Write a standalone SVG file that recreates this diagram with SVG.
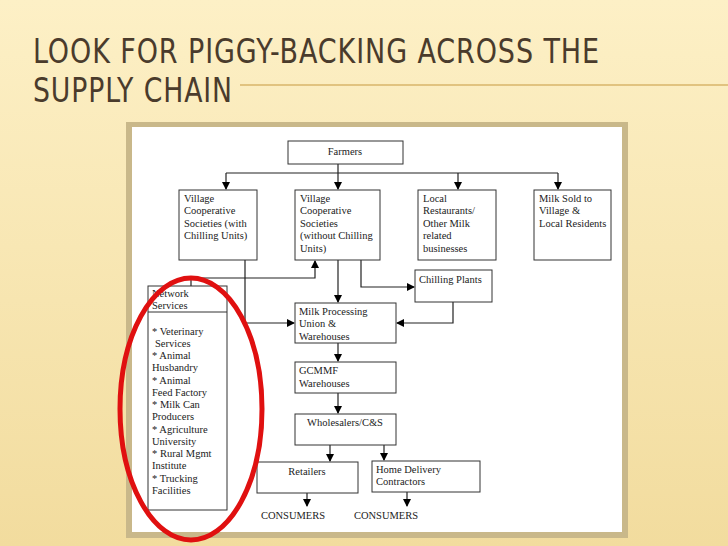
<svg xmlns="http://www.w3.org/2000/svg" width="728" height="546" viewBox="0 0 728 546">
<defs>
<linearGradient id="bg" x1="0" y1="0" x2="0" y2="1"><stop offset="0" stop-color="#fdf0c6"/><stop offset="1" stop-color="#f2dc9e"/></linearGradient>
<marker id="a" markerWidth="8" markerHeight="8" refX="7" refY="4" orient="auto" markerUnits="userSpaceOnUse"><path d="M0,0 L8,4 L0,8 Z" fill="#000"/></marker>
<style>
.b{fill:#fff;stroke:#333;stroke-width:1}
.t{font-family:"Liberation Serif",serif;font-size:10.5px;fill:#222}
.c{fill:none;stroke:#222;stroke-width:1.2;marker-end:url(#a)}
.l{fill:none;stroke:#222;stroke-width:1.2}
.ti{font-family:"DejaVu Sans Condensed","Open Sans",sans-serif;font-size:33px;fill:#4a3b2c;letter-spacing:1px}
</style>
</defs>
<rect width="728" height="546" fill="url(#bg)"/>
<text class="ti" x="33" y="63" textLength="567" lengthAdjust="spacingAndGlyphs">LOOK FOR PIGGY-BACKING ACROSS THE</text>
<text class="ti" x="33" y="102" textLength="200" lengthAdjust="spacingAndGlyphs">SUPPLY CHAIN</text>
<line x1="240" y1="85" x2="728" y2="85" stroke="#d9b56a" stroke-width="1.5"/>
<rect x="126" y="122" width="502" height="416" fill="#c9b88a"/>
<rect x="132" y="127" width="490" height="405" fill="#fff"/>
<g id="connectors">
<line class="l" x1="338" y1="164" x2="338" y2="173"/>
<line class="l" x1="226" y1="173" x2="558" y2="173"/>
<line class="c" x1="226" y1="173" x2="226" y2="189"/>
<line class="c" x1="338" y1="173" x2="338" y2="189"/>
<line class="c" x1="458" y1="173" x2="458" y2="189"/>
<line class="c" x1="558" y1="173" x2="558" y2="189"/>
<polyline class="c" points="191,286 191,278 315,278 315,261"/>
<polyline class="c" points="245,260 245,323 294,323"/>
<line class="c" x1="338" y1="260" x2="338" y2="302"/>
<polyline class="c" points="361,260 361,287 414,287"/>
<polyline class="c" points="453,302 453,323 397,323"/>
<line class="c" x1="338" y1="343" x2="338" y2="361"/>
<line class="c" x1="338" y1="393" x2="338" y2="413"/>
<line class="c" x1="330" y1="445" x2="330" y2="461"/>
<line class="c" x1="384" y1="445" x2="384" y2="460"/>
<line class="c" x1="307" y1="493" x2="307" y2="506"/>
<line class="c" x1="407" y1="492" x2="407" y2="506"/>
</g>
<g id="farmers"><rect class="b" x="288" y="141" width="115" height="23"/><text class="t" x="345" y="155" text-anchor="middle">Farmers</text></g>
<g id="vc1"><rect class="b" x="179" y="190" width="78" height="70"/><text class="t"><tspan x="184" y="202">Village</tspan><tspan x="184" y="214">Cooperative</tspan><tspan x="184" y="227">Societies (with</tspan><tspan x="184" y="239">Chilling Units)</tspan></text></g>
<g id="vc2"><rect class="b" x="295" y="190" width="85" height="70"/><text class="t"><tspan x="300" y="202">Village</tspan><tspan x="300" y="214">Cooperative</tspan><tspan x="300" y="227">Societies</tspan><tspan x="300" y="239">(without Chilling</tspan><tspan x="300" y="252">Units)</tspan></text></g>
<g id="local"><rect class="b" x="418" y="190" width="78" height="70"/><text class="t"><tspan x="423" y="202">Local</tspan><tspan x="423" y="214">Restaurants/</tspan><tspan x="423" y="227">Other Milk</tspan><tspan x="423" y="239">related</tspan><tspan x="423" y="252">businesses</tspan></text></g>
<g id="milksold"><rect class="b" x="534" y="190" width="77" height="70"/><text class="t"><tspan x="539" y="202">Milk Sold to</tspan><tspan x="539" y="214">Village &amp;</tspan><tspan x="539" y="227">Local Residents</tspan></text></g>
<g id="chilling"><rect class="b" x="415" y="270" width="77" height="32"/><text class="t" x="419" y="283">Chilling Plants</text></g>
<g id="network"><rect class="b" x="148" y="286" width="79" height="224"/><line x1="148" y1="312" x2="227" y2="312" stroke="#333"/><text class="t"><tspan x="152" y="297">Network</tspan><tspan x="152" y="309">Services</tspan><tspan x="152" y="335">* Veterinary</tspan><tspan x="155" y="347">Services</tspan><tspan x="152" y="359">* Animal</tspan><tspan x="152" y="371">Husbandry</tspan><tspan x="152" y="384">* Animal</tspan><tspan x="152" y="396">Feed Factory</tspan><tspan x="152" y="408">* Milk Can</tspan><tspan x="152" y="420">Producers</tspan><tspan x="152" y="433">* Agriculture</tspan><tspan x="152" y="445">University</tspan><tspan x="152" y="457">* Rural Mgmt</tspan><tspan x="152" y="469">Institute</tspan><tspan x="152" y="482">* Trucking</tspan><tspan x="152" y="494">Facilities</tspan></text></g>
<g id="mpu"><rect class="b" x="295" y="303" width="101" height="40"/><text class="t"><tspan x="299" y="315">Milk  Processing</tspan><tspan x="299" y="327">Union &amp;</tspan><tspan x="299" y="340">Warehouses</tspan></text></g>
<g id="gcmmf"><rect class="b" x="295" y="362" width="101" height="31"/><text class="t"><tspan x="299" y="374">GCMMF</tspan><tspan x="299" y="387">Warehouses</tspan></text></g>
<g id="wholesalers"><rect class="b" x="295" y="414" width="101" height="31"/><text class="t" x="345" y="426" text-anchor="middle">Wholesalers/C&amp;S</text></g>
<g id="retailers"><rect class="b" x="257" y="462" width="101" height="31"/><text class="t" x="307" y="475" text-anchor="middle">Retailers</text></g>
<g id="homedelivery"><rect class="b" x="372" y="461" width="108" height="31"/><text class="t"><tspan x="376" y="473">Home Delivery</tspan><tspan x="376" y="485">Contractors</tspan></text></g>
<g id="consumers1"><text class="t" x="293" y="519" text-anchor="middle">CONSUMERS</text></g>
<g id="consumers2"><text class="t" x="386" y="519" text-anchor="middle">CONSUMERS</text></g>
<ellipse cx="191" cy="409" rx="71" ry="131" fill="none" stroke="#e01010" stroke-width="5"/>
</svg>
